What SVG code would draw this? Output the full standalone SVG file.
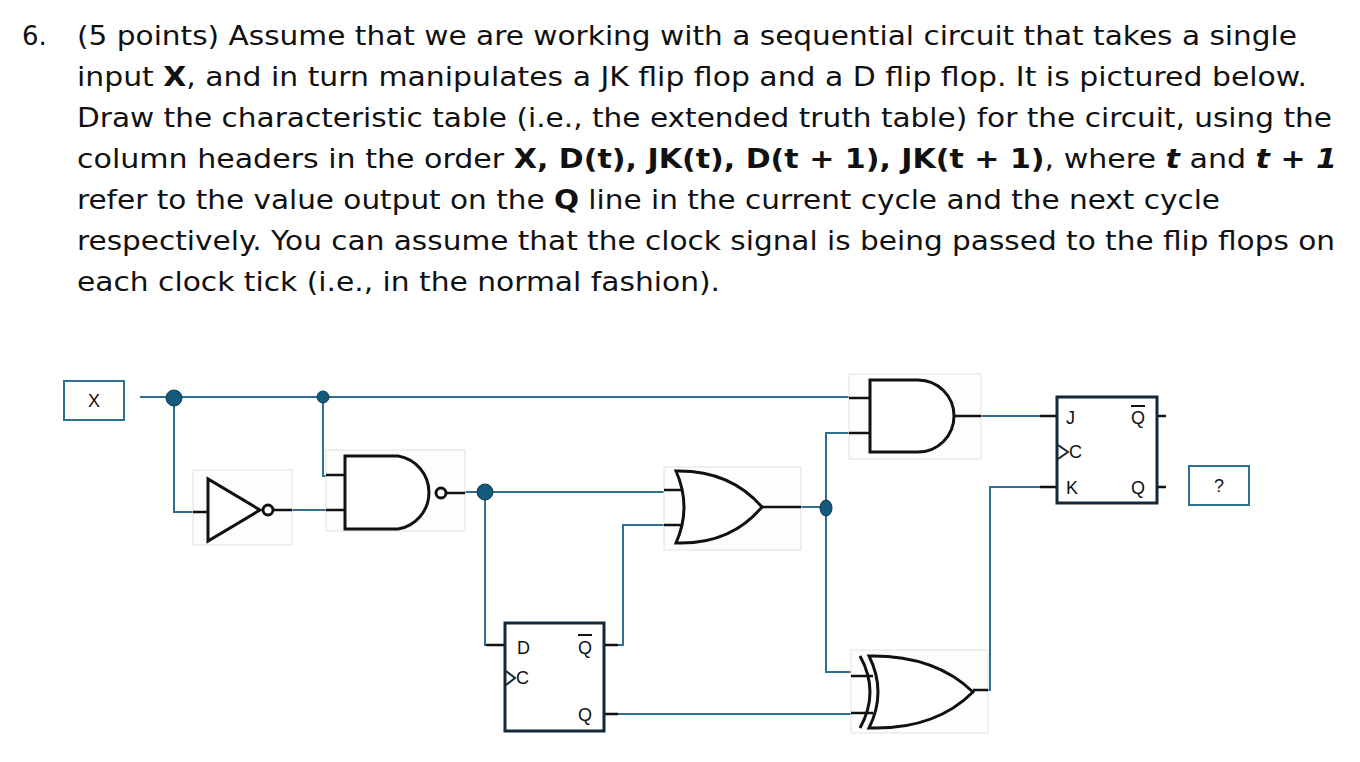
<svg xmlns="http://www.w3.org/2000/svg" width="1360" height="762" viewBox="0 0 1360 762">
<style>
.t{font-family:"DejaVu Sans","Verdana",sans-serif;font-size:26px;fill:#111}
.b{font-weight:bold}
.w{fill:none;stroke:#2f6f8f;stroke-width:2}
.g{fill:#fff;stroke:#111;stroke-width:3}
.bb{fill:#fdfdfd;stroke:#e2e2e2;stroke-width:1}
.ff{fill:#fff;stroke:#12293a;stroke-width:3}
.pin{stroke:#111;stroke-width:2.5}
.dot{fill:#155a7a;stroke:#0d3d55;stroke-width:1}
.l{font-family:"Liberation Sans",Arial,sans-serif;font-size:18px;fill:#111}
.box{fill:#fff;stroke:#2f6f8f;stroke-width:2}
</style>
<rect width="1360" height="762" fill="#fff"/>
<g id="question">
<text class="t" x="22" y="45">6.</text>
<text class="t" x="77" y="45" textLength="1220" lengthAdjust="spacingAndGlyphs">(5 points) Assume that we are working with a sequential circuit that takes a single</text>
<text class="t" x="77" y="86" textLength="1230" lengthAdjust="spacingAndGlyphs">input <tspan class="b">X</tspan>, and in turn manipulates a JK flip flop and a D flip flop. It is pictured below.</text>
<text class="t" x="77" y="127" textLength="1255" lengthAdjust="spacingAndGlyphs">Draw the characteristic table (i.e., the extended truth table) for the circuit, using the</text>
<text class="t" x="77" y="168" textLength="1260" lengthAdjust="spacingAndGlyphs">column headers in the order <tspan class="b">X, D(t), JK(t), D(t + 1), JK(t + 1)</tspan>, where <tspan class="b" font-style="italic">t</tspan> and <tspan class="b" font-style="italic">t + 1</tspan></text>
<text class="t" x="77" y="209" textLength="1143" lengthAdjust="spacingAndGlyphs">refer to the value output on the <tspan class="b">Q</tspan> line in the current cycle and the next cycle</text>
<text class="t" x="77" y="250" textLength="1258" lengthAdjust="spacingAndGlyphs">respectively. You can assume that the clock signal is being passed to the flip flops on</text>
<text class="t" x="77" y="291" textLength="643" lengthAdjust="spacingAndGlyphs">each clock tick (i.e., in the normal fashion).</text>
</g>
<g id="connectors">
<path class="w" d="M140 397H855"/>
<path class="w" d="M174 398V512H210"/>
<path class="w" d="M323 397V476H345"/>
<path class="w" d="M273 510H345"/>
<path class="w" d="M446 492H690"/>
<path class="w" d="M485 492V645H505"/>
<path class="w" d="M604 645H623V525H680"/>
<path class="w" d="M762 507H826"/>
<path class="w" d="M855 433H826V672H862"/>
<path class="w" d="M955 416H1057"/>
<path class="w" d="M604 714H862"/>
<path class="w" d="M973 690H990V487H1057"/>
</g>
<g id="x-input"><rect class="box" x="64" y="381" width="60" height="39"/><text class="l" x="94" y="407" text-anchor="middle">X</text></g>
<g id="junctions">
<circle class="dot" cx="174" cy="398" r="8"/>
<circle class="dot" cx="323" cy="397" r="6"/>
<circle class="dot" cx="485" cy="492" r="8"/>
<ellipse class="dot" cx="826" cy="508" rx="6" ry="8"/>
</g>
<g id="not-gate">
<rect class="bb" x="193" y="470" width="99" height="75"/>
<path class="pin" d="M193 512H208"/>
<path class="g" d="M208 479V541L260 510Z" stroke-width="2.5"/>
<circle class="g" cx="268" cy="510" r="5" stroke-width="2.5"/>
<path class="pin" d="M273 510H292"/>
</g>
<g id="nand-gate">
<rect class="bb" x="326" y="450" width="139" height="81"/>
<path class="pin" d="M326 475H345M326 510H345M446 493H465"/>
<path class="g" d="M345 456H398A37 37 0 0 1 398 529H345Z"/>
<circle class="g" cx="441" cy="493" r="5" stroke-width="2.5"/>
</g>
<g id="or-gate">
<rect class="bb" x="664" y="467" width="137" height="83"/>
<path class="pin" d="M664 490H686M664 525H686M762 507H801"/>
<path class="g" d="M676 471Q692 507 676 543Q730 545 762 507Q730 470 676 471Z"/>
</g>
<g id="and-gate">
<rect class="bb" x="849" y="374" width="132" height="85"/>
<path class="pin" d="M849 398H870M849 433H870M955 416H981"/>
<path class="g" d="M870 380H918A36 36 0 0 1 918 452H870Z"/>
</g>
<g id="xor-gate">
<rect class="bb" x="851" y="650" width="137" height="83"/>
<path class="pin" d="M851 676H873M851 713H873M973 690H988"/>
<path fill="none" stroke="#111" stroke-width="3" d="M860 656Q880 692 860 728"/>
<path class="g" d="M869 656Q887 692 869 728Q935 730 973 692Q935 655 869 656Z"/>
</g>
<g id="jk-flipflop">
<path class="pin" d="M1040 416H1057M1040 487H1057M1157 416H1166M1157 487H1166"/>
<rect class="ff" x="1057" y="397" width="100" height="106"/>
<text class="l" x="1066" y="424">J</text>
<text class="l" x="1131" y="424">Q</text><path d="M1131 406H1145" stroke="#111" stroke-width="2"/>
<path d="M1058 445L1068 452L1058 459" fill="none" stroke="#12293a" stroke-width="2"/>
<text class="l" x="1069" y="458" font-size="15">C</text>
<text class="l" x="1066" y="494">K</text>
<text class="l" x="1131" y="494">Q</text>
</g>
<g id="output-q"><rect class="box" x="1189" y="466" width="60" height="39"/><text class="l" x="1219" y="492" text-anchor="middle">?</text></g>
<g id="d-flipflop">
<path class="pin" d="M486 645H505M604 645H618M604 714H618"/>
<rect class="ff" x="505" y="623" width="99" height="108"/>
<text class="l" x="517" y="654">D</text>
<text class="l" x="578" y="654">Q</text><path d="M578 635H592" stroke="#111" stroke-width="2"/>
<path d="M506 671L515 678L506 685" fill="none" stroke="#12293a" stroke-width="2"/>
<text class="l" x="516" y="684" font-size="15">C</text>
<text class="l" x="578" y="721">Q</text>
</g>
</svg>
